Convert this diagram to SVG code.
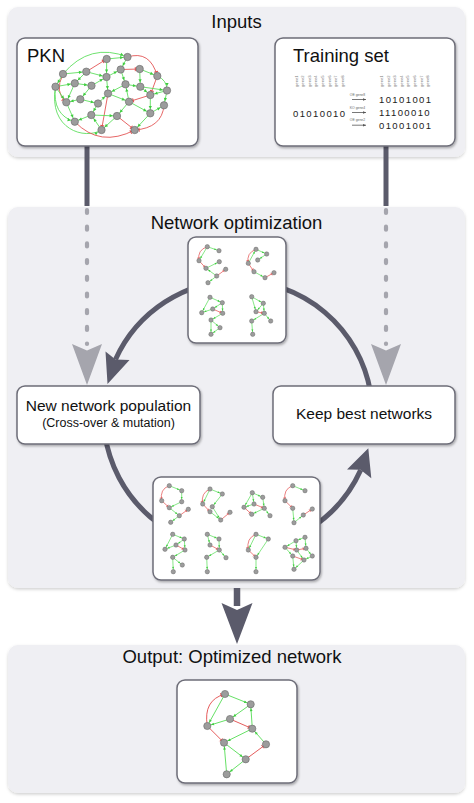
<svg xmlns="http://www.w3.org/2000/svg" width="474" height="803" viewBox="0 0 474 803">
<style>
.pn{fill:#efeff3;filter:url(#psh)}
.bx{fill:#fff;stroke:#6d6d78;stroke-width:1.5;filter:url(#bsh)}
.t{font-family:"Liberation Sans",Arial,sans-serif;fill:#111}
.hd{font-family:"Liberation Sans",Arial,sans-serif;fill:#777;font-size:4.2px}
.bn{font-family:"Liberation Sans",Arial,sans-serif;fill:#222;font-size:9.5px;letter-spacing:1.4px}
.tl{font-family:"Liberation Sans",Arial,sans-serif;fill:#666;font-size:3.4px;text-anchor:middle}
.g{stroke:#55dd55;stroke-width:0.85;fill:none;marker-end:url(#mg)}
.r{stroke:#e24a4a;stroke-width:0.85;fill:none;marker-end:url(#mr)}
.n{fill:#9c9c9c;stroke:#686868;stroke-width:0.6}
.sg{stroke:#55dd55;stroke-width:0.7;fill:none;marker-end:url(#sgm)}
.sr{stroke:#e24a4a;stroke-width:0.7;fill:none;marker-end:url(#srm)}
.sn{fill:#9c9c9c;stroke:#686868;stroke-width:0.45}
.og{stroke:#55dd55;stroke-width:0.9;fill:none;marker-end:url(#ogm)}
.or{stroke:#e24a4a;stroke-width:0.9;fill:none;marker-end:url(#orm)}
.on{fill:#9c9c9c;stroke:#686868;stroke-width:0.6}
.dk{stroke:#5b5b6b;fill:none}
.lt{stroke:#a5a5ad;fill:none}
</style>
<defs>
<filter id="psh" x="-5%" y="-5%" width="110%" height="115%"><feDropShadow dx="0" dy="1.5" stdDeviation="1.5" flood-color="#000" flood-opacity="0.18"/></filter>
<filter id="bsh" x="-10%" y="-10%" width="125%" height="125%"><feDropShadow dx="1" dy="1.5" stdDeviation="1.2" flood-color="#000" flood-opacity="0.3"/></filter>
<marker id="mg" markerUnits="userSpaceOnUse" markerWidth="6" markerHeight="6" refX="4.2" refY="0" orient="auto" overflow="visible"><path d="M0,0 L-3.2,-1.6 L-3.2,1.6z" fill="#3fcc3f"/></marker>
<marker id="mr" markerUnits="userSpaceOnUse" markerWidth="6" markerHeight="6" refX="4.4" refY="0" orient="auto" overflow="visible"><path d="M0,-2 V2" stroke="#e24a4a" stroke-width="1"/></marker>
<marker id="sgm" markerUnits="userSpaceOnUse" markerWidth="4" markerHeight="4" refX="2.6" refY="0" orient="auto" overflow="visible"><path d="M0,0 L-2.2,-1 L-2.2,1z" fill="#3fcc3f"/></marker>
<marker id="srm" markerUnits="userSpaceOnUse" markerWidth="4" markerHeight="4" refX="2.8" refY="0" orient="auto" overflow="visible"><path d="M0,-1.4 V1.4" stroke="#e24a4a" stroke-width="0.7"/></marker>
<marker id="ogm" markerUnits="userSpaceOnUse" markerWidth="6" markerHeight="6" refX="3.9" refY="0" orient="auto" overflow="visible"><path d="M0,0 L-3,-1.4 L-3,1.4z" fill="#3fcc3f"/></marker>
<marker id="orm" markerUnits="userSpaceOnUse" markerWidth="6" markerHeight="6" refX="4.1" refY="0" orient="auto" overflow="visible"><path d="M0,-2 V2" stroke="#e24a4a" stroke-width="0.9"/></marker>
<marker id="tam" markerUnits="userSpaceOnUse" markerWidth="5" markerHeight="5" refX="0" refY="0" orient="auto" overflow="visible"><path d="M0,0 L-3,-1.3 L-3,1.3z" fill="#555"/></marker>
</defs>

<g id="panel-inputs">
<rect class="pn" x="8" y="7" width="457" height="150" rx="10"/>
<text class="t" x="236.5" y="28" font-size="18.5" text-anchor="middle">Inputs</text>
</g>
<g id="panel-optimization">
<rect class="pn" x="8" y="207" width="457" height="381" rx="10"/>
<text class="t" x="236.5" y="229" font-size="18.5" text-anchor="middle">Network optimization</text>
</g>
<g id="panel-output">
<rect class="pn" x="8" y="645" width="457" height="148" rx="10"/>
<text class="t" x="232" y="663" font-size="18.5" text-anchor="middle">Output: Optimized network</text>
</g>

<g id="connectors">
<line class="dk" x1="87" y1="146" x2="87" y2="206" stroke-width="5"/>
<line class="lt" x1="87" y1="210" x2="87" y2="344" stroke-width="4.2" stroke-dasharray="3 13.7" stroke-linecap="round"/>
<polygon points="72,344 87,350.5 102,344 87,385" fill="#a5a5ad"/>
<line class="dk" x1="386" y1="146" x2="386" y2="206" stroke-width="5"/>
<line class="lt" x1="386" y1="210" x2="386" y2="344" stroke-width="4.2" stroke-dasharray="3 13.7" stroke-linecap="round"/>
<polygon points="371,344 386,350.5 401,344 386,385" fill="#a5a5ad"/>
<path class="dk" d="M238,280.5 A134.5,134.5 0 0 0 115.5,359.5" stroke-width="5"/>
<polygon points="107.5,384 129.5,360 115.5,359.5 105.5,351.5" fill="#5b5b6b"/>
<path class="dk" d="M238,280.5 A134.5,134.5 0 0 1 370.5,392" stroke-width="5"/>
<path class="dk" d="M104.8,433.7 A134.5,134.5 0 0 0 238,549.5" stroke-width="5"/>
<path class="dk" d="M238,549.5 A134.5,134.5 0 0 0 360.7,470.1" stroke-width="5"/>
<polygon points="368.3,448.3 371.3,478.3 360.5,469.7 347,469.4" fill="#5b5b6b"/>
<line class="dk" x1="237" y1="588" x2="237" y2="606" stroke-width="6.5"/>
<polygon points="221.5,603 237,610 252.5,603 237,644" fill="#5b5b6b"/>
</g>

<g id="node-pkn">
<rect class="bx" x="17" y="38" width="181" height="108" rx="8"/>
<text class="t" x="27" y="62" font-size="18.5">PKN</text>
<g>
<path class="g" d="M63,74 Q90,42 127.5,57"/>
<path class="g" d="M55.5,86.7 Q52,115 74.8,121.7"/>
<path class="g" d="M55.5,86.7 C48,130 85,140 101.5,130"/>
<path class="g" d="M157.3,76 Q167,80 167,90.5"/>
<path class="r" d="M127.5,57 Q150,50 157.3,76"/>
<path class="r" d="M74.8,121.7 Q100,148 134.7,130"/>
<path class="r" d="M164,105.3 Q162,128 134.7,130"/>
<path class="r" d="M63,74 Q54,92 66.3,102.3"/>
<line class="r" x1="86.3" y1="71.7" x2="106.7" y2="59"/>
<line class="r" x1="120.7" y1="69.5" x2="139.7" y2="69"/>
<line class="r" x1="108" y1="93.5" x2="101.5" y2="130"/>
<line class="r" x1="150.3" y1="95" x2="129" y2="101.7"/>
<line class="r" x1="117" y1="116" x2="134.7" y2="130"/>
<line class="r" x1="157.3" y1="76" x2="150.3" y2="95"/>
<line class="g" x1="167" y1="90.5" x2="164" y2="105.3"/>
<line class="g" x1="139.7" y1="69" x2="157.3" y2="76"/>
<line class="g" x1="106.7" y1="59" x2="127.5" y2="57"/>
<line class="g" x1="106.7" y1="59" x2="106.5" y2="77"/>
<line class="g" x1="63" y1="74" x2="86.3" y2="71.7"/>
<line class="g" x1="86.3" y1="71.7" x2="74.8" y2="83.3"/>
<line class="g" x1="63" y1="74" x2="55.5" y2="86.7"/>
<line class="g" x1="55.5" y1="86.7" x2="74.8" y2="83.3"/>
<line class="g" x1="74.8" y1="83.3" x2="91.5" y2="85.7"/>
<line class="g" x1="91.5" y1="85.7" x2="106.5" y2="77"/>
<line class="g" x1="106.5" y1="77" x2="120.7" y2="69.5"/>
<line class="g" x1="120.7" y1="69.5" x2="125.5" y2="84.3"/>
<line class="g" x1="139.7" y1="69" x2="140.3" y2="86.7"/>
<line class="g" x1="125.5" y1="84.3" x2="108" y2="93.5"/>
<line class="g" x1="140.3" y1="86.7" x2="150.3" y2="95"/>
<line class="g" x1="91.5" y1="85.7" x2="80.3" y2="99.3"/>
<line class="g" x1="80.3" y1="99.3" x2="66.3" y2="102.3"/>
<line class="g" x1="66.3" y1="102.3" x2="74.8" y2="121.7"/>
<line class="g" x1="80.3" y1="99.3" x2="98" y2="103.5"/>
<line class="g" x1="98" y1="103.5" x2="108" y2="93.5"/>
<line class="g" x1="108" y1="93.5" x2="129" y2="101.7"/>
<line class="g" x1="129" y1="101.7" x2="125.5" y2="84.3"/>
<line class="g" x1="98" y1="103.5" x2="91.3" y2="115"/>
<line class="g" x1="91.3" y1="115" x2="74.8" y2="121.7"/>
<line class="g" x1="91.3" y1="115" x2="117" y2="116"/>
<line class="g" x1="117" y1="116" x2="101.5" y2="130"/>
<line class="g" x1="129" y1="101.7" x2="117" y2="116"/>
<line class="g" x1="150.3" y1="113.3" x2="134.7" y2="130"/>
<line class="g" x1="150.3" y1="95" x2="150.3" y2="113.3"/>
<line class="g" x1="140.3" y1="86.7" x2="167" y2="90.5"/>
<line class="g" x1="150.3" y1="113.3" x2="164" y2="105.3"/>
<line class="g" x1="127.5" y1="57" x2="120.7" y2="69.5"/>
<line class="g" x1="125.5" y1="84.3" x2="140.3" y2="86.7"/>
<line class="g" x1="86.3" y1="71.7" x2="106.5" y2="77"/>
<line class="g" x1="74.8" y1="83.3" x2="66.3" y2="102.3"/>
<line class="g" x1="101.5" y1="130" x2="91.3" y2="115"/>
<line class="g" x1="129" y1="101.7" x2="150.3" y2="113.3"/>
<line class="g" x1="167" y1="90.5" x2="150.3" y2="95"/>
<line class="g" x1="55.5" y1="86.7" x2="66.3" y2="102.3"/>
<line class="g" x1="106.5" y1="77" x2="108" y2="93.5"/>
</g>
<g>
<circle class="n" cx="106.7" cy="59" r="3.7"/><circle class="n" cx="127.5" cy="57" r="3.7"/><circle class="n" cx="63" cy="74" r="3.7"/><circle class="n" cx="86.3" cy="71.7" r="3.7"/><circle class="n" cx="106.5" cy="77" r="3.7"/><circle class="n" cx="120.7" cy="69.5" r="3.7"/><circle class="n" cx="139.7" cy="69" r="3.7"/><circle class="n" cx="157.3" cy="76" r="3.7"/><circle class="n" cx="55.5" cy="86.7" r="3.7"/><circle class="n" cx="74.8" cy="83.3" r="3.7"/><circle class="n" cx="91.5" cy="85.7" r="3.7"/><circle class="n" cx="125.5" cy="84.3" r="3.7"/><circle class="n" cx="140.3" cy="86.7" r="3.7"/><circle class="n" cx="108" cy="93.5" r="3.7"/><circle class="n" cx="150.3" cy="95" r="3.7"/><circle class="n" cx="167" cy="90.5" r="3.7"/><circle class="n" cx="66.3" cy="102.3" r="3.7"/><circle class="n" cx="80.3" cy="99.3" r="3.7"/><circle class="n" cx="98" cy="103.5" r="3.7"/><circle class="n" cx="129" cy="101.7" r="3.7"/><circle class="n" cx="164" cy="105.3" r="3.7"/><circle class="n" cx="150.3" cy="113.3" r="3.7"/><circle class="n" cx="91.3" cy="115" r="3.7"/><circle class="n" cx="117" cy="116" r="3.7"/><circle class="n" cx="74.8" cy="121.7" r="3.7"/><circle class="n" cx="101.5" cy="130" r="3.7"/><circle class="n" cx="134.7" cy="130" r="3.7"/>
</g>
</g>

<g id="node-training">
<rect class="bx" x="275" y="38" width="180" height="108" rx="8"/>
<text class="t" x="293" y="62" font-size="18.5">Training set</text>
<text class="hd" transform="translate(297.5,87) rotate(-90)">gene1</text>
<text class="hd" transform="translate(304.1,87) rotate(-90)">gene2</text>
<text class="hd" transform="translate(310.7,87) rotate(-90)">gene3</text>
<text class="hd" transform="translate(317.3,87) rotate(-90)">gene4</text>
<text class="hd" transform="translate(323.9,87) rotate(-90)">gene5</text>
<text class="hd" transform="translate(330.5,87) rotate(-90)">gene6</text>
<text class="hd" transform="translate(337.1,87) rotate(-90)">gene7</text>
<text class="hd" transform="translate(343.7,87) rotate(-90)">gene8</text>
<text class="hd" transform="translate(383,87) rotate(-90)">gene1</text>
<text class="hd" transform="translate(389.6,87) rotate(-90)">gene2</text>
<text class="hd" transform="translate(396.2,87) rotate(-90)">gene3</text>
<text class="hd" transform="translate(402.8,87) rotate(-90)">gene4</text>
<text class="hd" transform="translate(409.4,87) rotate(-90)">gene5</text>
<text class="hd" transform="translate(416,87) rotate(-90)">gene6</text>
<text class="hd" transform="translate(422.6,87) rotate(-90)">gene7</text>
<text class="hd" transform="translate(429.2,87) rotate(-90)">gene8</text>
<text class="bn" x="293" y="116.5">01010010</text>
<text class="bn" x="379" y="102.5">10101001</text>
<text class="bn" x="379" y="115.5">11100010</text>
<text class="bn" x="379" y="129">01001001</text>
<text class="tl" x="357.5" y="96">OE gene8</text>
<text class="tl" x="357.5" y="108.5">KO gene4</text>
<text class="tl" x="357.5" y="121">OE gene2</text>
<line x1="352" y1="99.5" x2="366" y2="99.5" stroke="#555" stroke-width="0.8" marker-end="url(#tam)"/>
<line x1="352" y1="112.5" x2="366" y2="112.5" stroke="#555" stroke-width="0.8" marker-end="url(#tam)"/>
<line x1="352" y1="125.2" x2="366" y2="125.2" stroke="#555" stroke-width="0.8" marker-end="url(#tam)"/>
</g>

<g id="node-population-top">
<rect class="bx" x="188" y="237" width="98" height="106" rx="8"/>
<g>
<path class="sr" d="M207.3,246.7 Q197,250 199,260.7"/>
<line class="sg" x1="207.3" y1="246.7" x2="219" y2="250.7"/>
<line class="sg" x1="207.3" y1="246.7" x2="199" y2="260.7"/>
<line class="sr" x1="199" y1="260.7" x2="206" y2="268.3"/>
<line class="sg" x1="206" y1="268.3" x2="219.3" y2="261.7"/>
<line class="sg" x1="216.7" y1="276" x2="206" y2="268.3"/>
<line class="sr" x1="216.7" y1="276" x2="225.7" y2="269.3"/>
<line class="sg" x1="216.7" y1="276" x2="208" y2="282.7"/>
<path class="sr" d="M256,249.3 Q246,253 248.3,263.3"/>
<line class="sg" x1="256" y1="249.3" x2="266.7" y2="254"/>
<line class="sg" x1="266.7" y1="254" x2="257.7" y2="260"/>
<line class="sg" x1="248.3" y1="263.3" x2="256" y2="249.3"/>
<line class="sr" x1="248.3" y1="263.3" x2="254" y2="271.7"/>
<line class="sg" x1="254" y1="271.7" x2="265" y2="277.7"/>
<line class="sr" x1="265" y1="277.7" x2="274" y2="272.7"/>
<line class="sg" x1="210" y1="297.3" x2="222.3" y2="302.7"/>
<line class="sg" x1="210" y1="297.3" x2="201.7" y2="312.7"/>
<line class="sg" x1="222.3" y1="302.7" x2="222.7" y2="313.3"/>
<line class="sg" x1="212.7" y1="309" x2="201.7" y2="312.7"/>
<line class="sr" x1="212.7" y1="309" x2="222.7" y2="313.3"/>
<line class="sg" x1="222.7" y1="313.3" x2="211" y2="320"/>
<line class="sg" x1="211" y1="320" x2="220" y2="327.7"/>
<line class="sg" x1="211" y1="320" x2="211" y2="334.3"/>
<line class="sg" x1="220" y1="327.7" x2="211" y2="334.3"/>
<line class="sg" x1="222.3" y1="302.7" x2="212.7" y2="309"/>
<line class="sg" x1="251.7" y1="296.7" x2="263.3" y2="303.3"/>
<line class="sg" x1="263.3" y1="303.3" x2="256" y2="311.7"/>
<line class="sg" x1="251.7" y1="296.7" x2="256" y2="311.7"/>
<line class="sr" x1="256" y1="311.7" x2="264.3" y2="313.3"/>
<line class="sg" x1="263.3" y1="303.3" x2="264.3" y2="313.3"/>
<line class="sg" x1="264.3" y1="313.3" x2="270.7" y2="321"/>
<line class="sg" x1="264.3" y1="313.3" x2="251.7" y2="321"/>
<line class="sg" x1="251.7" y1="321" x2="252.7" y2="334.3"/>
</g>
<g>
<circle class="sn" cx="207.3" cy="246.7" r="2.2"/><circle class="sn" cx="219" cy="250.7" r="2.2"/><circle class="sn" cx="199" cy="260.7" r="2.2"/><circle class="sn" cx="219.3" cy="261.7" r="2.2"/><circle class="sn" cx="206" cy="268.3" r="2.2"/><circle class="sn" cx="225.7" cy="269.3" r="2.2"/><circle class="sn" cx="216.7" cy="276" r="2.2"/><circle class="sn" cx="208" cy="282.7" r="2.2"/>
<circle class="sn" cx="256" cy="249.3" r="2.2"/><circle class="sn" cx="266.7" cy="254" r="2.2"/><circle class="sn" cx="257.7" cy="260" r="2.2"/><circle class="sn" cx="248.3" cy="263.3" r="2.2"/><circle class="sn" cx="254" cy="271.7" r="2.2"/><circle class="sn" cx="265" cy="277.7" r="2.2"/><circle class="sn" cx="274" cy="272.7" r="2.2"/>
<circle class="sn" cx="210" cy="297.3" r="2.2"/><circle class="sn" cx="222.3" cy="302.7" r="2.2"/><circle class="sn" cx="201.7" cy="312.7" r="2.2"/><circle class="sn" cx="212.7" cy="309" r="2.2"/><circle class="sn" cx="222.7" cy="313.3" r="2.2"/><circle class="sn" cx="211" cy="320" r="2.2"/><circle class="sn" cx="220" cy="327.7" r="2.2"/><circle class="sn" cx="211" cy="334.3" r="2.2"/>
<circle class="sn" cx="251.7" cy="296.7" r="2.2"/><circle class="sn" cx="263.3" cy="303.3" r="2.2"/><circle class="sn" cx="256" cy="311.7" r="2.2"/><circle class="sn" cx="264.3" cy="313.3" r="2.2"/><circle class="sn" cx="270.7" cy="321" r="2.2"/><circle class="sn" cx="251.7" cy="321" r="2.2"/><circle class="sn" cx="252.7" cy="334.3" r="2.2"/>
</g>
</g>

<g id="node-new-population">
<rect class="bx" x="17" y="386" width="183" height="58" rx="8"/>
<text class="t" x="108.5" y="411" font-size="15.5" text-anchor="middle">New network population</text>
<text class="t" x="108.5" y="427" font-size="12.5" text-anchor="middle">(Cross-over &amp; mutation)</text>
</g>

<g id="node-keep-best">
<rect class="bx" x="273" y="386" width="182" height="58" rx="8"/>
<text class="t" x="364" y="419" font-size="15.5" text-anchor="middle">Keep best networks</text>
</g>

<g id="node-population-bottom">
<rect class="bx" x="153" y="477" width="167" height="103" rx="8"/>
<g>
<path class="sr" d="M169.3,485.7 Q159.5,489 161.7,500.7"/>
<line class="sg" x1="169.3" y1="485.7" x2="181.7" y2="490.7"/>
<line class="sg" x1="181.7" y1="490.7" x2="181.7" y2="501.7"/>
<line class="sg" x1="181.7" y1="501.7" x2="169.3" y2="507.7"/>
<line class="sr" x1="161.7" y1="500.7" x2="169.3" y2="507.7"/>
<line class="sg" x1="169.3" y1="507.7" x2="179.3" y2="515.7"/>
<line class="sr" x1="179.3" y1="515.7" x2="188.3" y2="509.3"/>
<line class="sg" x1="179.3" y1="515.7" x2="170.7" y2="522.3"/>
<path class="sr" d="M210,489 Q200.5,493 202.7,504"/>
<line class="sg" x1="210" y1="489" x2="222.3" y2="494"/>
<line class="sg" x1="222.3" y1="494" x2="212.3" y2="506.7"/>
<line class="sg" x1="210" y1="489" x2="202.7" y2="504"/>
<line class="sr" x1="202.7" y1="504" x2="210" y2="511.7"/>
<line class="sg" x1="210" y1="511.7" x2="220.7" y2="520"/>
<line class="sg" x1="212.3" y1="506.7" x2="220.7" y2="520"/>
<line class="sr" x1="220.7" y1="520" x2="230" y2="512.3"/>
<line class="sg" x1="252.3" y1="492.7" x2="262.7" y2="497.3"/>
<line class="sg" x1="252.3" y1="492.7" x2="244" y2="507.3"/>
<line class="sg" x1="252.3" y1="492.7" x2="254" y2="504"/>
<line class="sg" x1="262.7" y1="497.3" x2="264.3" y2="508.3"/>
<line class="sg" x1="254" y1="504" x2="244" y2="507.3"/>
<line class="sr" x1="254" y1="504" x2="264.3" y2="508.3"/>
<line class="sr" x1="244" y1="507.3" x2="251.7" y2="514.3"/>
<line class="sg" x1="264.3" y1="508.3" x2="251.7" y2="514.3"/>
<line class="sg" x1="264.3" y1="508.3" x2="270" y2="515.7"/>
<path class="sr" d="M292.7,485.7 Q283,489 285,500.7"/>
<line class="sg" x1="292.7" y1="485.7" x2="305" y2="490.7"/>
<line class="sr" x1="285" y1="500.7" x2="292.7" y2="508.3"/>
<line class="sg" x1="292.7" y1="508.3" x2="294" y2="522.7"/>
<line class="sg" x1="294" y1="522.7" x2="303.3" y2="515"/>
<line class="sr" x1="303.3" y1="515" x2="312.3" y2="509"/>
<line class="sg" x1="172.7" y1="534.3" x2="184.3" y2="539"/>
<line class="sg" x1="172.7" y1="534.3" x2="165" y2="549.3"/>
<line class="sg" x1="184.3" y1="539" x2="185" y2="550"/>
<line class="sg" x1="176" y1="545" x2="165" y2="549.3"/>
<line class="sr" x1="176" y1="545" x2="185" y2="550"/>
<line class="sg" x1="185" y1="550" x2="172.7" y2="557.3"/>
<line class="sg" x1="172.7" y1="557.3" x2="182.3" y2="565"/>
<line class="sg" x1="172.7" y1="557.3" x2="173.3" y2="571.7"/>
<line class="sg" x1="184.3" y1="539" x2="176" y2="545"/>
<line class="sg" x1="207.3" y1="534.3" x2="219" y2="539"/>
<line class="sg" x1="207.3" y1="534.3" x2="210" y2="545"/>
<line class="sg" x1="219" y1="539" x2="219.3" y2="550"/>
<line class="sr" x1="210" y1="545" x2="219.3" y2="550"/>
<line class="sg" x1="219.3" y1="550" x2="226" y2="557.7"/>
<line class="sg" x1="219.3" y1="550" x2="206.7" y2="557.3"/>
<line class="sg" x1="206.7" y1="557.3" x2="207.3" y2="571.7"/>
<path class="sr" d="M256,534.3 Q246,538 248.3,550"/>
<line class="sg" x1="256" y1="534.3" x2="268.3" y2="539"/>
<line class="sg" x1="268.3" y1="539" x2="256" y2="557.3"/>
<line class="sg" x1="256" y1="534.3" x2="248.3" y2="550"/>
<line class="sr" x1="248.3" y1="550" x2="256" y2="557.3"/>
<line class="sg" x1="256" y1="557.3" x2="256" y2="571.7"/>
<line class="sg" x1="305" y1="537.3" x2="296" y2="540.7"/>
<line class="sg" x1="296" y1="540.7" x2="285" y2="547.3"/>
<line class="sg" x1="305" y1="537.3" x2="306" y2="548.3"/>
<line class="sg" x1="296" y1="540.7" x2="296.7" y2="550"/>
<line class="sr" x1="285" y1="547.3" x2="296.7" y2="550"/>
<line class="sr" x1="296.7" y1="550" x2="306" y2="548.3"/>
<line class="sg" x1="285" y1="547.3" x2="292.7" y2="556"/>
<line class="sg" x1="296.7" y1="550" x2="304" y2="560"/>
<line class="sg" x1="306" y1="548.3" x2="312.3" y2="556"/>
<line class="sr" x1="292.7" y1="556" x2="304" y2="560"/>
<line class="sg" x1="292.7" y1="556" x2="294" y2="569.3"/>
<line class="sg" x1="304" y1="560" x2="294" y2="569.3"/>
<line class="sg" x1="312.3" y1="556" x2="304" y2="560"/>
</g>
<g>
<circle class="sn" cx="169.3" cy="485.7" r="2.2"/><circle class="sn" cx="181.7" cy="490.7" r="2.2"/><circle class="sn" cx="161.7" cy="500.7" r="2.2"/><circle class="sn" cx="181.7" cy="501.7" r="2.2"/><circle class="sn" cx="169.3" cy="507.7" r="2.2"/><circle class="sn" cx="188.3" cy="509.3" r="2.2"/><circle class="sn" cx="179.3" cy="515.7" r="2.2"/><circle class="sn" cx="170.7" cy="522.3" r="2.2"/>
<circle class="sn" cx="210" cy="489" r="2.2"/><circle class="sn" cx="222.3" cy="494" r="2.2"/><circle class="sn" cx="202.7" cy="504" r="2.2"/><circle class="sn" cx="212.3" cy="506.7" r="2.2"/><circle class="sn" cx="210" cy="511.7" r="2.2"/><circle class="sn" cx="220.7" cy="520" r="2.2"/><circle class="sn" cx="230" cy="512.3" r="2.2"/>
<circle class="sn" cx="252.3" cy="492.7" r="2.2"/><circle class="sn" cx="262.7" cy="497.3" r="2.2"/><circle class="sn" cx="244" cy="507.3" r="2.2"/><circle class="sn" cx="254" cy="504" r="2.2"/><circle class="sn" cx="264.3" cy="508.3" r="2.2"/><circle class="sn" cx="251.7" cy="514.3" r="2.2"/><circle class="sn" cx="270" cy="515.7" r="2.2"/>
<circle class="sn" cx="292.7" cy="485.7" r="2.2"/><circle class="sn" cx="305" cy="490.7" r="2.2"/><circle class="sn" cx="285" cy="500.7" r="2.2"/><circle class="sn" cx="292.7" cy="508.3" r="2.2"/><circle class="sn" cx="303.3" cy="515" r="2.2"/><circle class="sn" cx="312.3" cy="509" r="2.2"/><circle class="sn" cx="294" cy="522.7" r="2.2"/>
<circle class="sn" cx="172.7" cy="534.3" r="2.2"/><circle class="sn" cx="184.3" cy="539" r="2.2"/><circle class="sn" cx="165" cy="549.3" r="2.2"/><circle class="sn" cx="176" cy="545" r="2.2"/><circle class="sn" cx="185" cy="550" r="2.2"/><circle class="sn" cx="172.7" cy="557.3" r="2.2"/><circle class="sn" cx="182.3" cy="565" r="2.2"/><circle class="sn" cx="173.3" cy="571.7" r="2.2"/>
<circle class="sn" cx="207.3" cy="534.3" r="2.2"/><circle class="sn" cx="219" cy="539" r="2.2"/><circle class="sn" cx="210" cy="545" r="2.2"/><circle class="sn" cx="219.3" cy="550" r="2.2"/><circle class="sn" cx="226" cy="557.7" r="2.2"/><circle class="sn" cx="206.7" cy="557.3" r="2.2"/><circle class="sn" cx="207.3" cy="571.7" r="2.2"/>
<circle class="sn" cx="256" cy="534.3" r="2.2"/><circle class="sn" cx="268.3" cy="539" r="2.2"/><circle class="sn" cx="248.3" cy="550" r="2.2"/><circle class="sn" cx="256" cy="557.3" r="2.2"/><circle class="sn" cx="256" cy="571.7" r="2.2"/>
<circle class="sn" cx="296" cy="540.7" r="2.2"/><circle class="sn" cx="305" cy="537.3" r="2.2"/><circle class="sn" cx="285" cy="547.3" r="2.2"/><circle class="sn" cx="296.7" cy="550" r="2.2"/><circle class="sn" cx="306" cy="548.3" r="2.2"/><circle class="sn" cx="292.7" cy="556" r="2.2"/><circle class="sn" cx="304" cy="560" r="2.2"/><circle class="sn" cx="312.3" cy="556" r="2.2"/><circle class="sn" cx="294" cy="569.3" r="2.2"/>
</g>
</g>

<g id="node-output">
<rect class="bx" x="177" y="680" width="120" height="103" rx="8"/>
<g>
<path class="or" d="M207.3,726 Q203,700 225,694"/>
<line class="og" x1="225" y1="694" x2="250.7" y2="704.3"/>
<line class="og" x1="225" y1="694" x2="207.3" y2="726"/>
<line class="og" x1="250.7" y1="704.3" x2="230" y2="719"/>
<line class="og" x1="252.3" y1="728.7" x2="250.7" y2="704.3"/>
<line class="og" x1="230" y1="719" x2="207.3" y2="726"/>
<line class="or" x1="230" y1="719" x2="252.3" y2="728.7"/>
<line class="or" x1="207.3" y1="726" x2="224" y2="742.7"/>
<line class="og" x1="252.3" y1="728.7" x2="224" y2="742.7"/>
<line class="og" x1="266" y1="744.3" x2="252.3" y2="728.7"/>
<line class="or" x1="245.7" y1="759.3" x2="266" y2="744.3"/>
<line class="og" x1="224" y1="742.7" x2="245.7" y2="759.3"/>
<line class="og" x1="245.7" y1="759.3" x2="226.7" y2="774.3"/>
<line class="og" x1="226.7" y1="774.3" x2="224" y2="742.7"/>
</g>
<g>
<circle class="on" cx="225" cy="694" r="3.6"/><circle class="on" cx="250.7" cy="704.3" r="3.6"/><circle class="on" cx="230" cy="719" r="3.6"/><circle class="on" cx="207.3" cy="726" r="3.6"/><circle class="on" cx="252.3" cy="728.7" r="3.6"/><circle class="on" cx="224" cy="742.7" r="3.6"/><circle class="on" cx="266" cy="744.3" r="3.6"/><circle class="on" cx="245.7" cy="759.3" r="3.6"/><circle class="on" cx="226.7" cy="774.3" r="3.6"/>
</g>
</g>
</svg>
